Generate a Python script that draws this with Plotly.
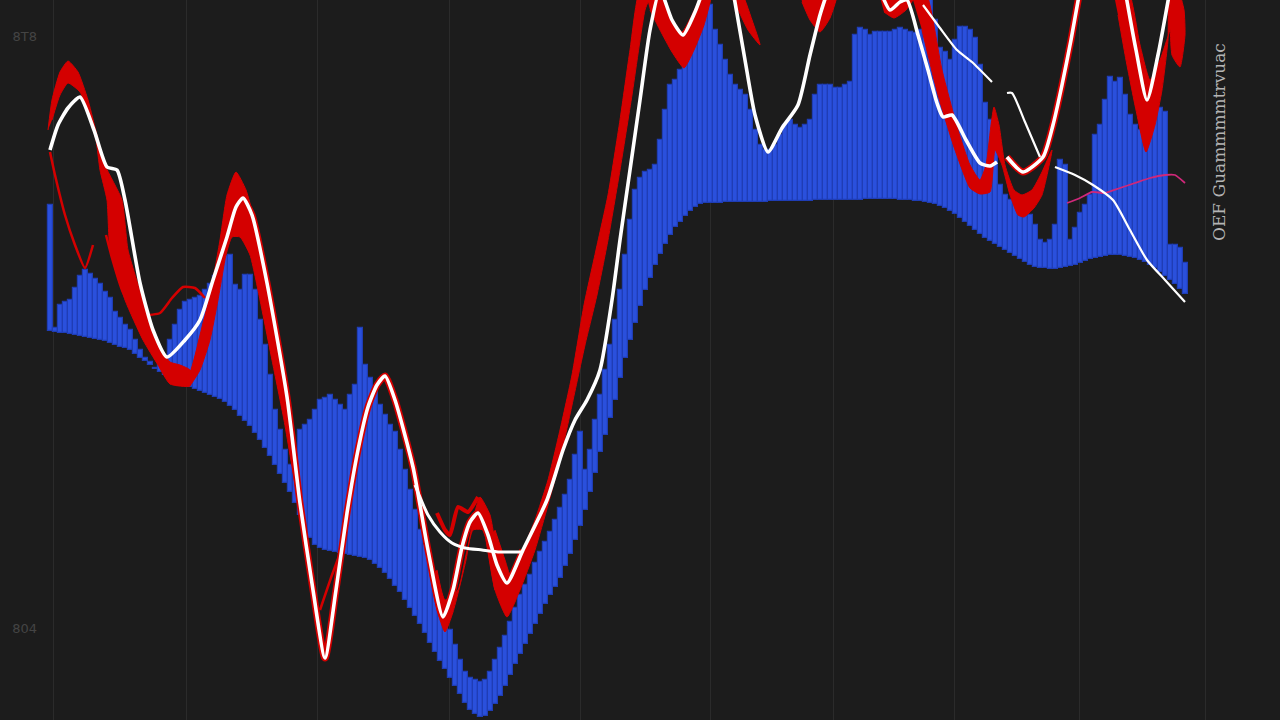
import plotly.graph_objects as go

# Readings; the vertical scale runs downward.
bar_lower = [
331,332,333,333,334,335,336,337,338,339,
340,341,343,345,347,348,350,354,358,361,
365,369,372,375,378,380,383,385,387,389,
391,393,395,397,399,402,406,410,416,421,
426,433,440,448,456,465,474,483,492,503,
515,528,538,545,548,550,551,552,553,554,
555,556,557,558,560,564,568,573,579,586,
592,600,608,616,624,633,643,652,661,669,
678,686,694,703,710,714,717,716,711,704,
696,686,675,664,654,644,634,624,614,604,
595,587,578,566,554,540,526,510,492,473,
452,435,418,400,378,358,340,323,306,290,
278,265,254,244,235,227,222,216,211,207,
204,203,203,203,203,202,202,202,202,202,
202,202,202,202,201,201,201,201,201,201,
201,201,201,200,200,200,200,200,200,200,
200,200,200,199,199,199,199,199,199,199,
200,200,200,201,201,202,203,204,206,208,
211,214,218,222,226,230,234,238,241,244,
247,250,253,256,259,262,265,267,268,268,
269,269,268,267,266,265,263,261,259,258,
257,256,255,255,255,256,257,258,260,262,
265,268,272,276,280,284,289,294]
bar_upper = [
205,328,305,302,300,288,276,270,274,279,
284,292,298,312,318,325,330,340,350,358,
362,368,365,358,340,325,310,302,300,298,
296,290,284,276,266,256,255,285,290,275,
275,290,320,345,375,410,430,450,465,450,
430,425,420,410,400,398,395,400,405,410,
395,385,328,365,378,392,405,415,425,432,
450,470,490,510,530,545,560,580,600,615,
630,645,660,672,678,680,682,680,672,660,
648,636,622,608,595,585,575,563,552,542,
532,520,508,495,480,455,432,470,450,420,
395,370,345,320,290,255,220,190,178,172,
170,165,140,110,85,80,70,60,52,45,
25,10,5,30,45,60,75,85,90,95,
110,130,145,150,150,145,135,125,120,125,
128,125,120,95,85,85,85,88,88,85,
82,35,28,30,35,32,32,32,32,30,
28,30,32,33,30,10,0,20,48,52,
60,40,27,27,30,38,65,103,120,143,
185,195,200,205,210,215,215,225,240,243,
240,225,160,165,240,228,213,205,195,135,
125,100,77,82,78,95,115,125,130,125,
120,115,108,112,245,245,248,263]
bar_x = [50 + 5 * i for i in range(len(bar_lower))]

# Closed red ribbons
ribbon_a_x = [48,52,60,68,78,88,105,122,128,143,157,170,180,190,190,170,158,143,125,110,107,100,96,88,80,68,60,52]
ribbon_a_y = [130,100,72,61,72,100,165,200,250,300,340,362,365,370,386,384,365,340,300,250,200,170,140,112,92,83,95,120]
ribbon_b_x = [176,190,200,210,220,227,236,246,258,268,280,292,302,296,284,272,260,250,240,232,226,218,210,200,190]
ribbon_b_y = [386,372,335,295,240,195,172,190,235,290,370,440,520,490,420,360,300,255,237,237,255,300,340,370,386]
ribbon_c_x = [430,437,445,453,466,473,480,490,497,495,483,473,466,458,445,437]
ribbon_c_y = [575,610,632,612,560,520,497,515,560,590,530,530,555,590,600,570]
ribbon_d_x = [486,495,507,520,535,548,560,572,585,597,608,620,632,645,652,640,630,620,608,596,584,572,560,548,535,523,512,505,495]
ribbon_d_y = [540,590,617,590,550,505,460,405,345,295,240,170,95,10,-10,-10,50,120,195,250,305,375,430,480,520,550,580,560,530]
ribbon_e_x = [645,660,672,682,692,702,712,704,694,684,672,660,650]
ribbon_e_y = [-10,-10,20,32,15,-5,-10,25,50,68,52,30,10]
ribbon_f_x = [725,740,752,760,748,736]
ribbon_f_y = [-10,-10,20,45,30,5]
ribbon_g_x = [800,815,830,838,830,820,810,802]
ribbon_g_y = [-10,-10,-10,-10,18,32,20,2]
ribbon_h_x = [878,892,905,918,906,894,884]
ribbon_h_y = [-10,-10,-10,-10,10,18,12]
ribbon_i_x = [910,925,942,958,970,980,986,991,994,999,1005,1014,1022,1032,1042,1052,1042,1034,1024,1018,1010,1002,995,990,980,970,955,938,922]
ribbon_i_y = [-10,-10,70,130,165,180,165,125,107,125,165,190,195,190,172,150,195,208,217,215,195,165,150,192,194,188,150,95,30]
ribbon_j_x = [1113,1128,1140,1150,1160,1170,1178,1180,1172,1172,1180,1185,1184,1178,1170,1168,1162,1155,1146,1136,1126,1118]
ribbon_j_y = [-10,-10,45,80,60,30,0,-10,-10,55,67,35,10,-10,-10,40,90,125,152,110,60,15]
ribbons = [
    (ribbon_a_x, ribbon_a_y), (ribbon_b_x, ribbon_b_y), (ribbon_c_x, ribbon_c_y),
    (ribbon_d_x, ribbon_d_y), (ribbon_e_x, ribbon_e_y), (ribbon_f_x, ribbon_f_y),
    (ribbon_g_x, ribbon_g_y), (ribbon_h_x, ribbon_h_y), (ribbon_i_x, ribbon_i_y),
    (ribbon_j_x, ribbon_j_y),
]

# Thin red strokes
thin1_x = [50,55,65,75,85,93]
thin1_y = [152,175,215,245,268,245]
thin2_x = [106,112,122,132,145,160,172,183,195,205]
thin2_y = [235,258,290,308,315,313,298,287,288,298]
thin3_x = [320,332,345]
thin3_y = [610,575,540]
thin4_x = [437,445,450,458,468,478]
thin4_y = [513,530,535,507,512,497]
pink_x = [1067,1080,1092,1105,1120,1135,1150,1165,1175,1185]
pink_y = [203,198,192,193,188,183,178,175,175,183]

# White lines
white_main_x = [50,58,68,80,94,107,117,125,140,153,167,185,200,213,227,236,243,252,267,287,300,313,325,336,347,358,368,377,385,395,413,428,443,453,462,470,478,488,497,507,523,547,563,575,587,600,612,620,630,640,650,660,672,683,695,705]
white_main_y = [150,125,108,97,130,167,170,200,283,330,357,340,320,280,237,207,198,215,283,397,503,590,658,590,513,450,407,385,376,400,467,550,617,590,547,522,513,535,565,583,550,500,450,420,400,370,300,240,170,100,30,-10,20,35,12,-15]
white_b_x = [732,745,755,768,782,798,810,820,828]
white_b_y = [-15,60,115,152,128,105,55,15,-10]
white_c_x = [880,890,900,907,918,928,937,943,952,966,980,990,997]
white_c_y = [-10,10,2,0,35,70,103,117,115,140,163,166,162]
white_d_x = [1007,1023,1043,1053,1062,1071,1080]
white_d_y = [157,172,157,125,85,40,-10]
white_e_x = [1125,1136,1147,1158,1170]
white_e_y = [-10,50,100,55,-10]
white_f_x = [415,428,440,452,465,482,500,522]
white_f_y = [485,515,532,543,548,550,552,552]
white_g_x = [923,940,957,972,992]
white_g_y = [5,28,50,62,82]
white_h_x = [1007,1012,1025,1040]
white_h_y = [93,93,122,157]
white_i_x = [1055,1075,1093,1113,1130,1147,1165,1185]
white_i_y = [167,175,185,200,230,260,280,302]

# Stretch of the main white stroke that carries a red casing
casing_x = white_main_x[16:41]
casing_y = white_main_y[16:41]

grid_x = [53,186,317,449,580,710,833,954,1079,1205]
y_tick_vals = [36,628]
y_tick_text = ["8T8","804"]
side_title = "OEF Guammmmtrvuac"

BLUE = "#2a50dc"
RED = "#d40000"
fig = go.Figure()
fig.add_trace(go.Bar(x=bar_x, base=bar_lower,
                     y=[u - l for u, l in zip(bar_upper, bar_lower)],
                     width=5, marker=dict(color=BLUE, line=dict(color="#1f3db5", width=1.2))))

for rx, ry in ribbons:
    fig.add_trace(go.Scatter(x=rx, y=ry, mode="lines", fill="toself", fillcolor=RED,
                             line=dict(color=RED, width=1, shape="spline", smoothing=0.5)))
for tx, ty, col, w in [(thin1_x, thin1_y, RED, 2.5), (thin2_x, thin2_y, RED, 2.5),
                       (thin3_x, thin3_y, RED, 2.5), (thin4_x, thin4_y, RED, 4),
                       (pink_x, pink_y, "#d0287a", 1.8)]:
    fig.add_trace(go.Scatter(x=tx, y=ty, mode="lines",
                             line=dict(color=col, width=w, shape="spline", smoothing=0.5)))
for wx, wy in [(casing_x, casing_y), (white_d_x, white_d_y)]:
    fig.add_trace(go.Scatter(x=wx, y=wy, mode="lines",
                             line=dict(color=RED, width=7, shape="spline", smoothing=0.6)))
for wx, wy, w in [(white_f_x, white_f_y, 3), (white_main_x, white_main_y, 3.6),
                  (white_b_x, white_b_y, 3.6), (white_c_x, white_c_y, 3.6),
                  (white_d_x, white_d_y, 3.6), (white_e_x, white_e_y, 3.6),
                  (white_g_x, white_g_y, 2.2), (white_h_x, white_h_y, 2.2),
                  (white_i_x, white_i_y, 2.2)]:
    fig.add_trace(go.Scatter(x=wx, y=wy, mode="lines",
                             line=dict(color="#ffffff", width=w, shape="spline", smoothing=0.6)))

fig.update_layout(
    width=1280, height=720, autosize=False, showlegend=False,
    margin=dict(l=38, r=0, t=0, b=0),
    paper_bgcolor="#1c1c1c", plot_bgcolor="#1c1c1c", barmode="overlay", bargap=0,
    xaxis=dict(range=[38, 1280], tickvals=grid_x, showticklabels=False, ticks="",
               showgrid=True, gridcolor="#2b2b2b", gridwidth=1, zeroline=False, showline=False),
    yaxis=dict(range=[720, 0], tickvals=y_tick_vals, ticktext=y_tick_text, ticks="",
               showgrid=False, zeroline=False, showline=False,
               tickfont=dict(family="DejaVu Sans", size=13, color="#444444")),
    annotations=[dict(text=side_title, x=1219, y=142, xref="x", yref="y", showarrow=False,
                      textangle=-90, xanchor="center", yanchor="middle",
                      font=dict(family="DejaVu Serif", size=17, color="#b4b4b4"))],
)
fig.write_html("out.html", config={"displayModeBar": False},
               post_script="document.body.style.margin='0';document.documentElement.style.background='#1c1c1c';")
